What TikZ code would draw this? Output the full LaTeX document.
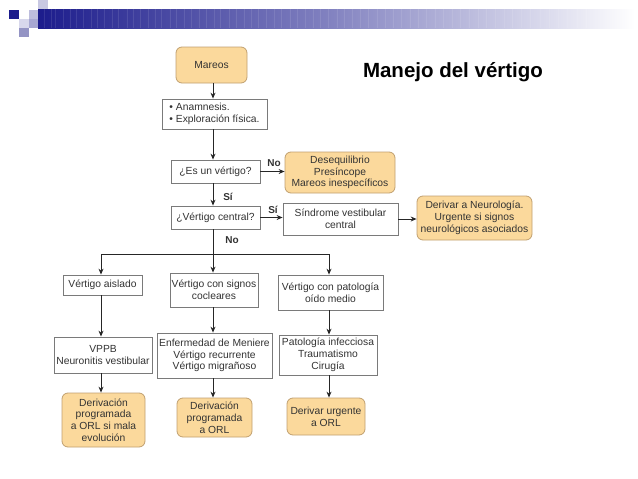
\documentclass[tikz,border=0pt]{standalone}
\usepackage{fontspec}
\setmainfont{Liberation Sans}
\usetikzlibrary{arrows.meta}
\definecolor{navy}{HTML}{1C1C8C}
\definecolor{midlav}{HTML}{8282C0}
\definecolor{sqa}{HTML}{C8C8E2}
\definecolor{sqb}{HTML}{BDBDDD}
\definecolor{sqc}{HTML}{D8D8EC}
\definecolor{sqd}{HTML}{A8A8D2}
\definecolor{sqe}{HTML}{9494C4}
\definecolor{orfill}{HTML}{FBD99C}
\definecolor{ordraw}{HTML}{C0A070}
\definecolor{boxdraw}{HTML}{7A7A7A}
\definecolor{txt}{HTML}{333333}
\definecolor{linec}{HTML}{262626}
\begin{document}
\begin{tikzpicture}[x=1pt,y=-1pt,
  every node/.style={font=\fontsize{10.3}{11.8}\selectfont, text=txt, align=center, inner sep=0pt},
  wbox/.style={draw=boxdraw, line width=0.8pt, fill=white},
  obox/.style={draw=ordraw, line width=0.8pt, fill=orfill, rounded corners=6pt},
  arr/.style={draw=linec, line width=0.9pt, -{Stealth[length=6pt,width=5pt]}},
  lbl/.style={font=\fontsize{10}{11}\selectfont\bfseries}]
\useasboundingbox (0,0) rectangle (638,479);
% header decoration
\shade[left color=navy, right color=midlav] (38,9) rectangle (330,28);
\shade[left color=midlav, right color=white] (329.5,9) rectangle (635,28);
\foreach \xx in {44,51,55,63,70,76,83,91,97,104,112,118,127,133,140,148,155,161,170,176,184,191,199,206,214,220,229,236,244,251,258,266,274,281,290,297,305,313,320,328,337,344,352,360,368,377,385,393,401,410,418,426,435,443,452,460,469,478,486,495,504,512,521,530,540,549,558,567,577,586}
  \draw[white, opacity=0.1, line width=0.6pt] (\xx,9) -- (\xx,28);
\fill[navy] (9,10) rectangle (18.5,19);
\fill[sqa] (38,0) rectangle (47.5,9);
\fill[sqb] (28.5,10) rectangle (38,19);
\fill[sqc] (19,19) rectangle (28.5,28);
\fill[sqd] (28.5,19) rectangle (38,28);
\fill[sqe] (19,28) rectangle (28.5,37);
% title
\node[font=\fontsize{20.5}{24}\selectfont\bfseries, text=black] (title) at (453,72) {Manejo del vértigo};
% column coordinates
\coordinate (c1) at (101,0);
\coordinate (c2) at (213,0);
\coordinate (c3) at (329,0);
% nodes
\node[obox, minimum width=71pt, minimum height=36pt] (mareos) at (211.5,65) {Mareos};
\node[wbox, minimum width=105pt, minimum height=30pt, align=left] (anam) at (214.5,114) {• Anamnesis.\\• Exploración física.};
\node[wbox, minimum width=89pt, minimum height=23pt] (esv) at (215.5,171.5) {¿Es un vértigo?};
\node[obox, minimum width=110pt, minimum height=41pt] (deseq) at (340,172.5) {Desequilibrio\\Presíncope\\Mareos inespecíficos};
\node[wbox, minimum width=89pt, minimum height=23pt] (vcen) at (215.5,217.5) {¿Vértigo central?};
\node[wbox, minimum width=115pt, minimum height=32pt] (sind) at (340.5,219) {Síndrome vestibular\\central};
\node[obox, minimum width=115pt, minimum height=44pt] (neuro) at (474.5,218) {Derivar a Neurología.\\Urgente si signos\\neurológicos asociados};
\node[wbox, minimum width=79pt, minimum height=20pt] (va) at (102.5,285) {Vértigo aislado};
\node[wbox, minimum width=88pt, minimum height=34pt] (vcs) at (214,290) {Vértigo con signos\\cocleares};
\node[wbox, minimum width=105pt, minimum height=35pt] (vpo) at (330.5,292.5) {Vértigo con patología\\oído medio};
\node[wbox, minimum width=98pt, minimum height=36pt] (vppb) at (103,355) {VPPB\\Neuronitis vestibular};
\node[wbox, minimum width=115pt, minimum height=45pt] (enf) at (214.5,355.5) {Enfermedad de Meniere\\Vértigo recurrente\\Vértigo migrañoso};
\node[wbox, minimum width=98pt, minimum height=40pt] (pat) at (328,355) {Patología infecciosa\\Traumatismo\\Cirugía};
\node[obox, minimum width=83pt, minimum height=54pt] (d1) at (103.5,420) {Derivación\\programada\\a ORL si mala\\evolución};
\node[obox, minimum width=75pt, minimum height=39pt] (d2) at (214.5,417.5) {Derivación\\programada\\a ORL};
\node[obox, minimum width=78pt, minimum height=37pt] (d3) at (326,416.5) {Derivar urgente\\a ORL};
% connectors
\draw[arr] (mareos.south -| c2) -- (anam.north -| c2);
\draw[arr] (anam.south -| c2) -- (esv.north -| c2);
\draw[arr] (esv.east) -- (deseq.west |- esv.east);
\draw[arr] (esv.south -| c2) -- (vcen.north -| c2);
\draw[arr] (vcen.east) -- (sind.west |- vcen.east);
\draw[arr] (sind.east) -- (neuro.west |- sind.east);
\coordinate (split) at (213,254);
\draw[draw=linec, line width=0.9pt] (vcen.south -| c2) -- (split);
\draw[draw=linec, line width=0.9pt] (split -| c1) -- (split -| c3);
\draw[arr] (split -| c1) -- (va.north -| c1);
\draw[arr] (split) -- (vcs.north -| c2);
\draw[arr] (split -| c3) -- (vpo.north -| c3);
\draw[arr] (va.south -| c1) -- (vppb.north -| c1);
\draw[arr] (vppb.south -| c1) -- (d1.north -| c1);
\draw[arr] (vcs.south -| c2) -- (enf.north -| c2);
\draw[arr] (enf.south -| c2) -- (d2.north -| c2);
\draw[arr] (vpo.south -| c3) -- (pat.north -| c3);
\draw[arr] (pat.south -| c3) -- (d3.north -| c3);
% labels
\node[lbl] (lno1) at (274,163) {No};
\node[lbl] (lsi1) at (228,196.5) {Sí};
\node[lbl] (lsi2) at (273,209.5) {Sí};
\node[lbl] (lno2) at (232,240) {No};
\end{tikzpicture}
\end{document}
